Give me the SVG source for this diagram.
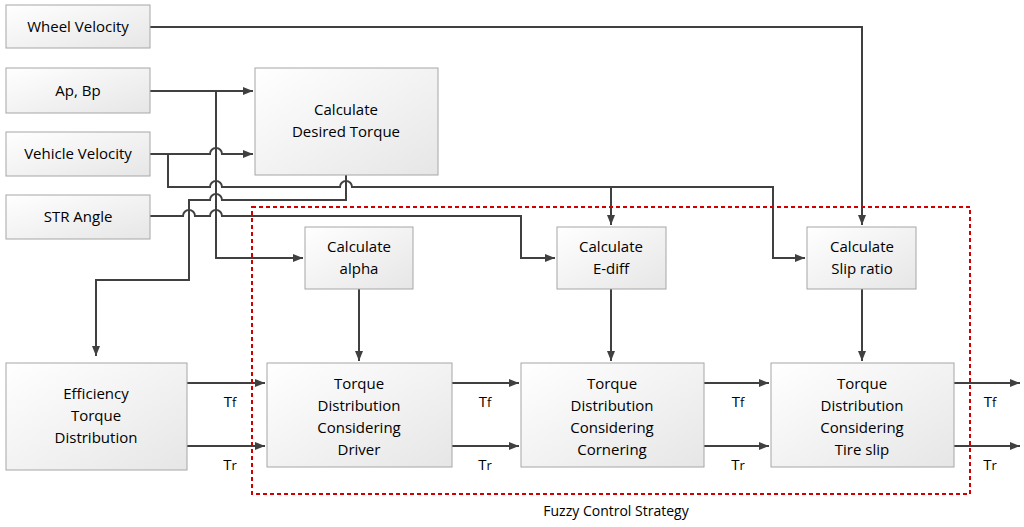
<svg xmlns="http://www.w3.org/2000/svg" width="1024" height="527" viewBox="0 0 1024 527">
<defs>
<linearGradient id="g" x1="0" y1="0" x2="1" y2="1"><stop offset="0" stop-color="#ffffff"/><stop offset="1" stop-color="#e6e6e6"/></linearGradient>
<marker id="a" markerWidth="10" markerHeight="8" refX="10" refY="4" orient="auto" markerUnits="userSpaceOnUse"><path d="M0,0L10,4L0,8z" fill="#404040"/></marker>
</defs>
<style>
rect.n{fill:url(#g);stroke:#a6a6a6;stroke-width:1}
text{font-family:"Open Sans","Liberation Sans",sans-serif;font-size:15px;fill:#000;text-anchor:middle}
.c path{fill:none;stroke:#404040;stroke-width:2}
.s{font-size:13px}
</style>
<rect x="0" y="0" width="1024" height="527" fill="#fff"/>
<g class="c">
<path d="M150,27H862V225" marker-end="url(#a)"/>
<path d="M150,91H253" marker-end="url(#a)"/>
<path d="M216,91V258H303" marker-end="url(#a)"/>
<path d="M150,154H210a6,6 0 0 1 12,0H253" marker-end="url(#a)"/>
<path d="M168,154V187H210a6,6 0 0 1 12,0H340a6,6 0 0 1 12,0H773V258H805" marker-end="url(#a)"/>
<path d="M611,187V225" marker-end="url(#a)"/>
<path d="M346,175V200H222a6,6 0 0 0 -12,0H189V280H96V356" marker-end="url(#a)"/>
<path d="M150,216H183a6,6 0 0 1 12,0H210a6,6 0 0 1 12,0H521V258H555" marker-end="url(#a)"/>
<path d="M359,289V361" marker-end="url(#a)"/>
<path d="M611,289V361" marker-end="url(#a)"/>
<path d="M862,289V361" marker-end="url(#a)"/>
<path d="M187,383H265" marker-end="url(#a)"/>
<path d="M187,446H265" marker-end="url(#a)"/>
<path d="M452,383H519" marker-end="url(#a)"/>
<path d="M452,446H519" marker-end="url(#a)"/>
<path d="M704,383H769" marker-end="url(#a)"/>
<path d="M704,446H769" marker-end="url(#a)"/>
<path d="M954,383H1020" marker-end="url(#a)"/>
<path d="M954,446H1020" marker-end="url(#a)"/>
</g>
<rect x="252" y="207" width="718" height="287" fill="none" stroke="#d00000" stroke-width="2" stroke-dasharray="4,3"/>
<text x="616" y="516" style="font-size:14px">Fuzzy Control Strategy</text>
<g id="wheel"><rect class="n" x="6" y="5" width="144" height="43"/><text x="78" y="32">Wheel  Velocity</text></g>
<g id="apbp"><rect class="n" x="6" y="68" width="144" height="45"/><text x="78" y="96">Ap, Bp</text></g>
<g id="vv"><rect class="n" x="6" y="132" width="144" height="44"/><text x="78" y="159">Vehicle Velocity</text></g>
<g id="str"><rect class="n" x="6" y="195" width="144" height="44"/><text x="78" y="222">STR Angle</text></g>
<g id="dt"><rect class="n" x="255" y="68" width="183" height="107"/><text x="346" y="115">Calculate</text><text x="346" y="137">Desired Torque</text></g>
<g id="alpha"><rect class="n" x="305" y="227" width="108" height="62"/><text x="359" y="252">Calculate</text><text x="359" y="274">alpha</text></g>
<g id="ediff"><rect class="n" x="557" y="227" width="109" height="62"/><text x="611" y="252">Calculate</text><text x="611" y="274">E-diff</text></g>
<g id="slip"><rect class="n" x="807" y="227" width="109" height="62"/><text x="862" y="252">Calculate</text><text x="862" y="274">Slip ratio</text></g>
<g id="eff"><rect class="n" x="6" y="363" width="181" height="107"/><text x="96" y="399">Efficiency</text><text x="96" y="421">Torque</text><text x="96" y="443">Distribution</text></g>
<g id="tdd"><rect class="n" x="267" y="363" width="185" height="104"/><text x="359" y="389">Torque</text><text x="359" y="411">Distribution</text><text x="359" y="433">Considering</text><text x="359" y="455">Driver</text></g>
<g id="tdc"><rect class="n" x="521" y="363" width="183" height="104"/><text x="612" y="389">Torque</text><text x="612" y="411">Distribution</text><text x="612" y="433">Considering</text><text x="612" y="455">Cornering</text></g>
<g id="tdt"><rect class="n" x="771" y="363" width="183" height="104"/><text x="862" y="389">Torque</text><text x="862" y="411">Distribution</text><text x="862" y="433">Considering</text><text x="862" y="455">Tire slip</text></g>
<g id="labels">
<text x="230" y="407">T<tspan class="s">f</tspan></text><text x="230" y="470">T<tspan class="s">r</tspan></text>
<text x="485" y="407">T<tspan class="s">f</tspan></text><text x="485" y="470">T<tspan class="s">r</tspan></text>
<text x="738" y="407">T<tspan class="s">f</tspan></text><text x="738" y="470">T<tspan class="s">r</tspan></text>
<text x="990" y="407">T<tspan class="s">f</tspan></text><text x="990" y="470">T<tspan class="s">r</tspan></text>
</g>
</svg>
